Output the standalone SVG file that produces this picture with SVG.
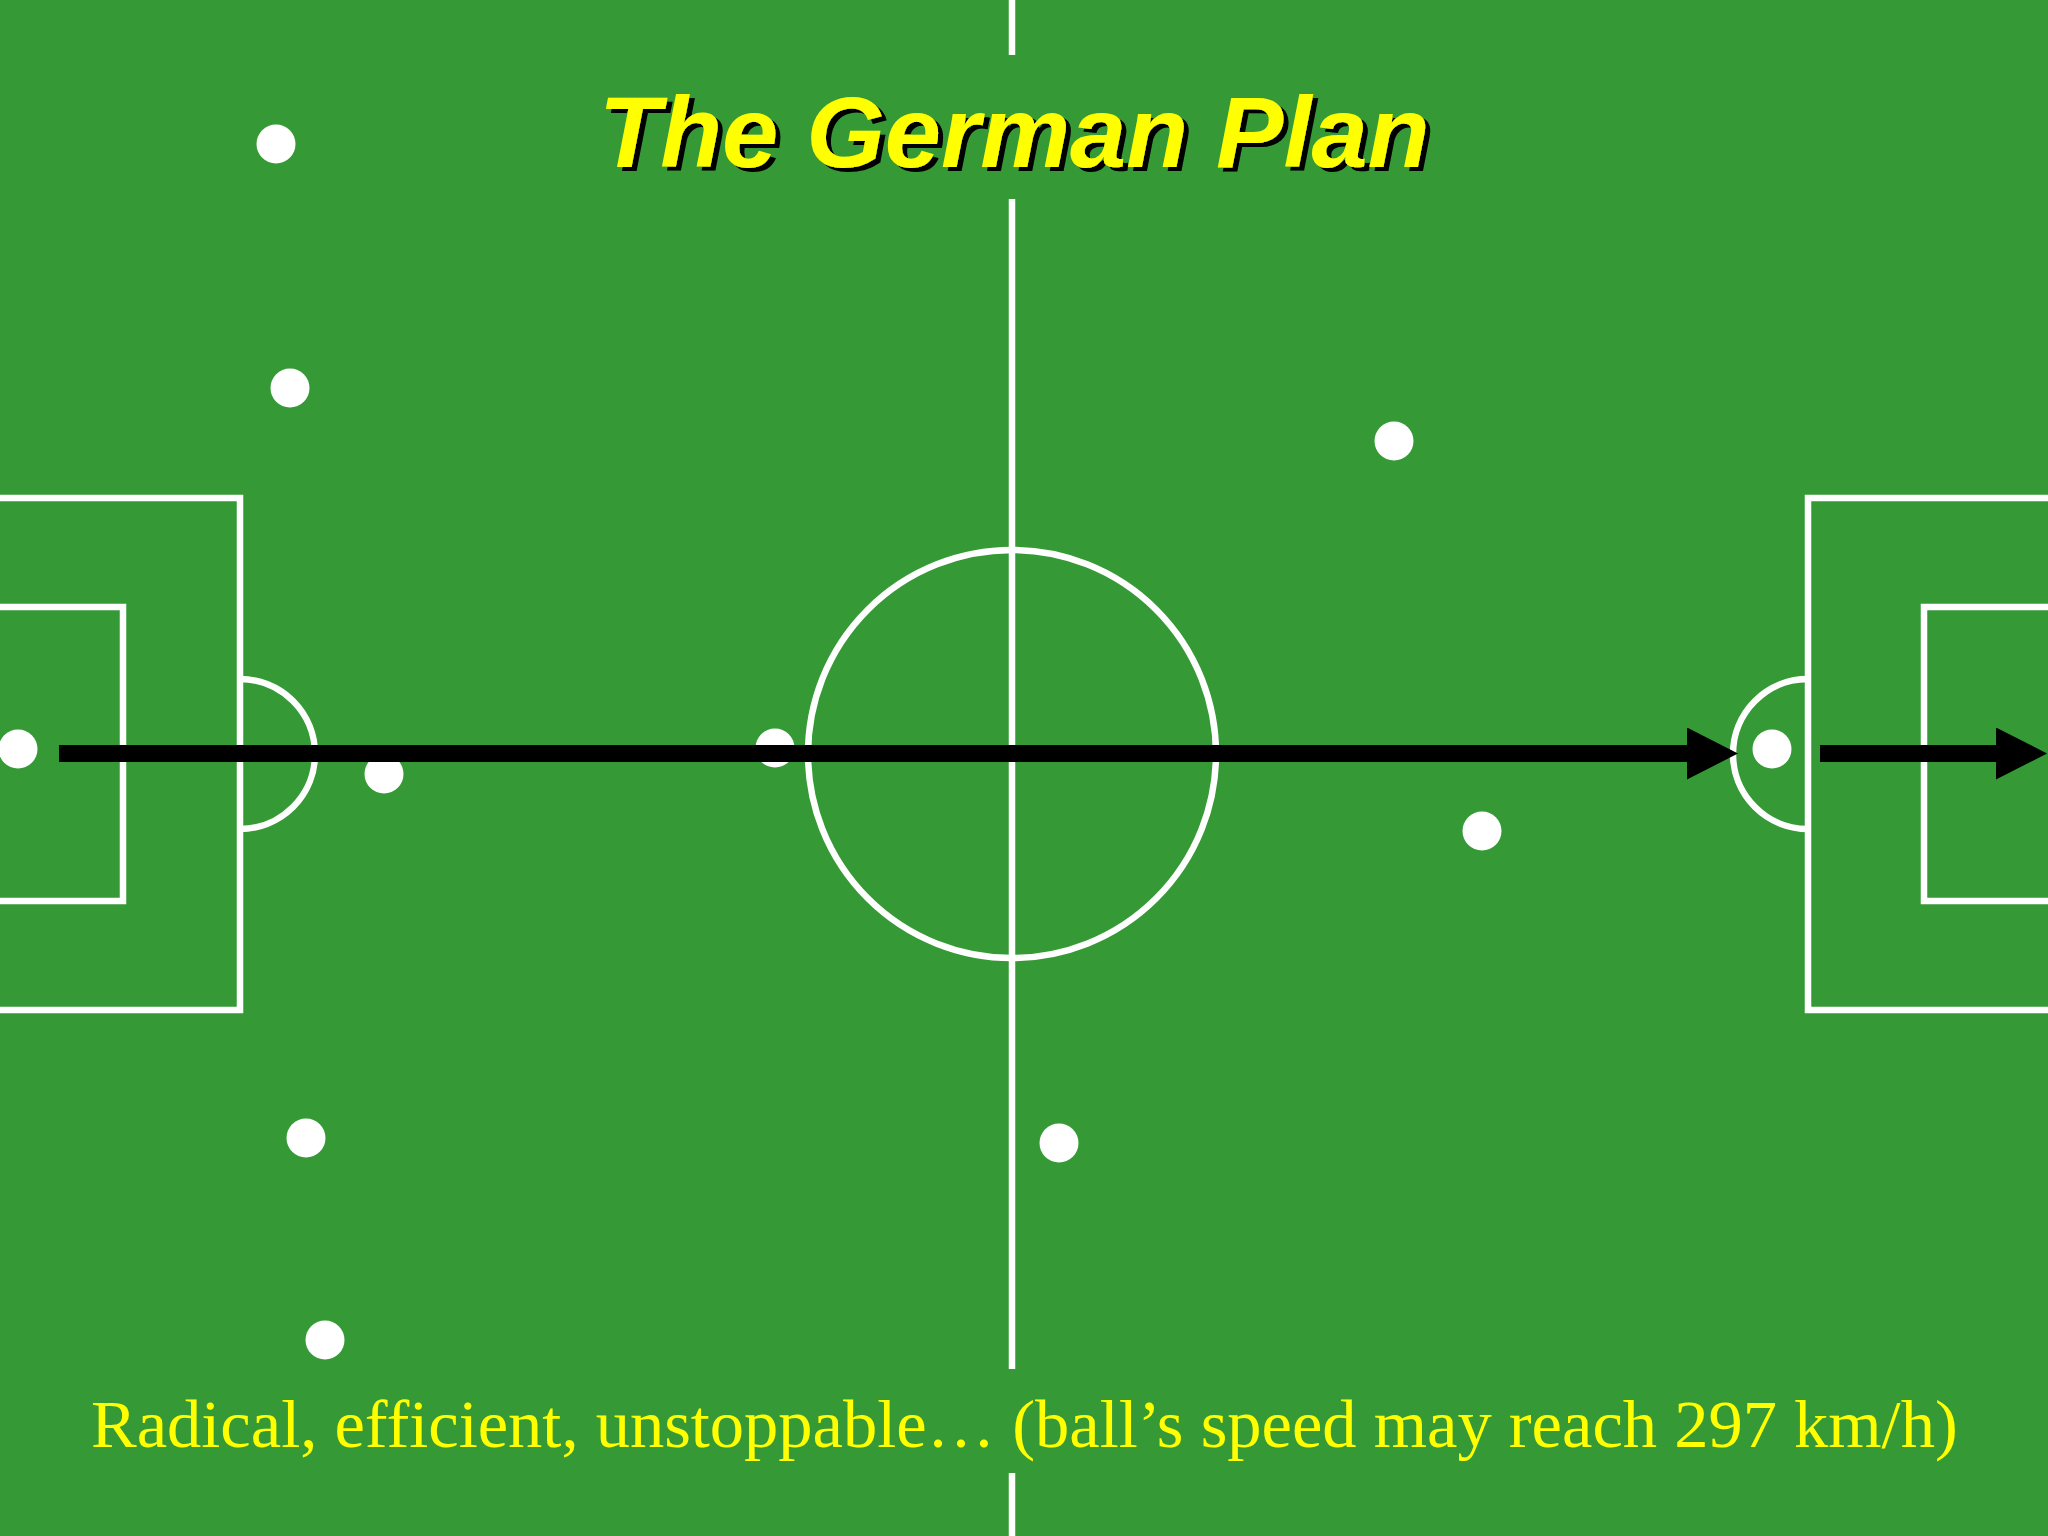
<svg xmlns="http://www.w3.org/2000/svg" width="2048" height="1536" viewBox="0 0 2048 1536">
  <style>
    .pitch { fill: none; stroke: #ffffff; stroke-width: 6.5; }
    .player { fill: #ffffff; }
    .arrow { stroke: #000000; stroke-width: 17; fill: none; }
    .title { font-family: "Liberation Sans", Arial, sans-serif; font-weight: bold; font-style: italic; font-size: 101px; fill: #ffff00; }
    .caption { font-family: "Liberation Serif", "Times New Roman", serif; font-size: 68.5px; fill: #ffff00; }
  </style>
  <defs>
    <marker id="head" markerUnits="userSpaceOnUse" markerWidth="51" markerHeight="52" viewBox="0 0 51 52" refX="1" refY="26" orient="auto">
      <path d="M0,0 L51,26 L0,52 Z" fill="#000000"/>
    </marker>
    <filter id="shadow" x="-5%" y="-20%" width="110%" height="140%">
      <feDropShadow dx="5" dy="4" stdDeviation="0" flood-color="#000000" flood-opacity="1"/>
    </filter>
  </defs>
  <rect width="2048" height="1536" fill="#359a35"/>

  <g id="pitch">
    <line class="pitch" x1="1012" y1="0" x2="1012" y2="55"/>
    <line class="pitch" x1="1012" y1="199" x2="1012" y2="1369"/>
    <line class="pitch" x1="1012" y1="1473" x2="1012" y2="1536"/>
    <circle class="pitch" cx="1012" cy="754" r="204"/>
    <path class="pitch" d="M0,498 H240 V1010 H0"/>
    <path class="pitch" d="M0,607 H123 V901 H0"/>
    <path class="pitch" d="M240,679 A75,75 0 0 1 240,829"/>
    <path class="pitch" d="M2048,498 H1808 V1010 H2048"/>
    <path class="pitch" d="M2048,607 H1924 V901 H2048"/>
    <path class="pitch" d="M1808,679 A75,75 0 0 0 1808,829"/>
  </g>

  <g id="players">
    <circle id="p1" class="player" cx="276" cy="144" r="19.5"/>
    <circle id="p2" class="player" cx="290" cy="388" r="19.5"/>
    <circle id="p3" class="player" cx="18" cy="749" r="19.5"/>
    <circle id="p4" class="player" cx="384" cy="774" r="19.5"/>
    <circle id="p5" class="player" cx="775" cy="748" r="19.5"/>
    <circle id="p6" class="player" cx="1394" cy="441" r="19.5"/>
    <circle id="p7" class="player" cx="1482" cy="831" r="19.5"/>
    <circle id="p8" class="player" cx="1772" cy="749" r="19.5"/>
    <circle id="p9" class="player" cx="306" cy="1138" r="19.5"/>
    <circle id="p10" class="player" cx="1059" cy="1143" r="19.5"/>
    <circle id="p11" class="player" cx="325" cy="1340" r="19.5"/>
  </g>

  <g id="connectors">
    <line class="arrow" x1="59" y1="753.5" x2="1688" y2="753.5" marker-end="url(#head)"/>
    <line class="arrow" x1="1820" y1="753.5" x2="1997" y2="753.5" marker-end="url(#head)"/>
  </g>

  <text id="title" class="title" x="1014" y="167" text-anchor="middle" filter="url(#shadow)">The German Plan</text>

  <text id="caption" class="caption" x="91" y="1447">Radical, efficient, unstoppable… (ball’s speed may reach 297 km/h)</text>
</svg>
